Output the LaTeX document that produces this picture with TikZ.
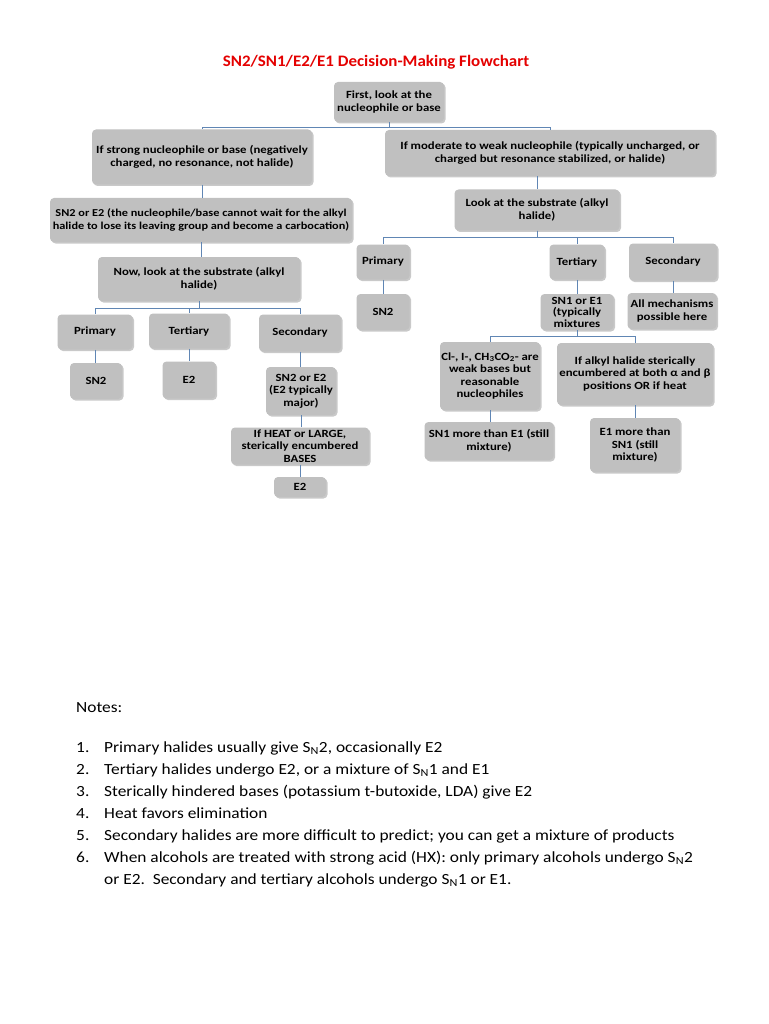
\documentclass[tikz,border=0pt]{standalone}
\usepackage{fontspec}
\setmainfont{Carlito}
\newfontfamily\boxfont{Carlito}[FakeStretch=1.16]
\newfontfamily\notefont{Carlito}[FakeStretch=1.12]
\newfontfamily\titlefont{Carlito}[FakeStretch=1.06]
\usepackage{tikz}
\usetikzlibrary{shadows}

\definecolor{boxgray}{RGB}{192,192,192}
\definecolor{linkblue}{RGB}{96,134,180}
\definecolor{titlered}{RGB}{228,0,0}

\tikzset{
  box/.style 2 args={rounded corners=4pt, fill=boxgray, align=center, inner sep=1pt,
    font=\boxfont\bfseries\fontsize{11}{12.6}\selectfont, minimum width=#1, minimum height=#2,
    drop shadow={shadow xshift=1.5pt, shadow yshift=-1.5pt, fill=black!35, opacity=.6}},
  link/.style={draw=linkblue, line width=0.8pt},
  note/.style={anchor=base west, inner sep=0pt, font=\notefont\fontsize{15.5}{19}\selectfont},
}

\begin{document}
\begin{tikzpicture}[x=1pt, y=-1pt]
        \fill[white] (0,0) rectangle (768,1024);
        \useasboundingbox (0,0) rectangle (768,1024);
        \node[font=\titlefont\bfseries\fontsize{16}{19}\selectfont, text=titlered] (title) at (376,62) {SN2/SN1/E2/E1 Decision-Making Flowchart};
        %
        \node[box={110pt}{40pt}] (first) at (389,102) {First, look at the\\nucleophile or base};
        \node[box={220pt}{55pt}] (strong) at (202,157) {If strong nucleophile or base (negatively\\charged, no resonance, not halide)};
        \node[box={330pt}{46pt}] (moderate) at (550,153) {If moderate to weak nucleophile (typically uncharged, or\\charged but resonance stabilized, or halide)};
        % left branch
        \node[box={302pt}{44pt}, font=\boxfont\bfseries\fontsize{10.6}{12.6}\selectfont] (sntwoetwo) at (201,220) {SN2 or E2 (the nucleophile/base cannot wait for the alkyl\\halide to lose its leaving group and become a carbocation)};
        \node[box={202pt}{44pt}] (nowlook) at (199,279) {Now, look at the substrate (alkyl\\halide)};
        \node[box={75pt}{35pt}] (primL) at (95,332) {Primary};
        \node[box={80pt}{35pt}] (tertL) at (189,331) {Tertiary};
        \node[box={82pt}{37pt}] (secL) at (300,333) {Secondary};
        \node[box={52pt}{36pt}] (sntwoL) at (96,381) {SN2};
        \node[box={53pt}{37pt}] (etwoL) at (189,380) {E2};
        \node[box={70pt}{48pt}, inner sep=0pt] (mixL) at (301,391) {SN2 or E2\\(E2 typically\\major)};
        \node[box={138pt}{37pt}, inner sep=0pt] (heat) at (300,446) {If HEAT or LARGE,\\sterically encumbered\\BASES};
        \node[box={52pt}{20pt}] (etwoB) at (300,487) {E2};
        % right branch
        \node[box={165pt}{41pt}] (lookR) at (537,210) {Look at the substrate (alkyl\\halide)};
        \node[box={53pt}{35pt}] (primR) at (383,262) {Primary};
        \node[box={53pt}{36pt}] (sntwoR) at (383,312) {SN2};
        \node[box={55pt}{35pt}] (tertR) at (577,262) {Tertiary};
        \node[box={88pt}{37pt}] (secR) at (673,262) {Secondary};
        \node[box={73pt}{36pt}, font=\boxfont\bfseries\fontsize{11}{11.5}\selectfont, inner sep=0pt] (mixR) at (577,312) {SN1 or E1\\(typically\\mixtures};
        \node[box={89pt}{36pt}] (allR) at (672,311) {All mechanisms\\possible here};
        \node[box={100pt}{68pt}] (weak) at (490,376) {Cl-, I-, CH\textsubscript{3}CO\textsubscript{2}- are\\weak bases but\\reasonable\\nucleophiles};
        \node[box={156pt}{62pt}] (hindered) at (635,374) {If alkyl halide sterically\\encumbered at both α and β\\positions OR if heat};
        \node[box={129pt}{38pt}] (sn1more) at (489,441) {SN1 more than E1 (still\\mixture)};
        \node[box={90pt}{54pt}] (e1more) at (635,445) {E1 more than\\SN1 (still\\mixture)};
        %
        \draw[link] (first.south) -- ++(0,5) -| (strong.north);
        \draw[link] (first.south) -- ++(0,5) -| (moderate.north);
        \draw[link] (strong.south) -- (strong.south |- sntwoetwo.north);
        \draw[link] (sntwoetwo.south) -- (sntwoetwo.south |- nowlook.north);
        \draw[link] (nowlook.south) -- ++(0,7) -| (primL.north);
        \draw[link] (nowlook.south) -- ++(0,7) -| (tertL.north);
        \draw[link] (nowlook.south) -- ++(0,7) -| (secL.north);
        \draw[link] (primL.south) -- (primL.south |- sntwoL.north);
        \draw[link] (tertL.south) -- (etwoL.north);
        \draw[link] (secL.south) -- (secL.south |- mixL.north);
        \draw[link] (mixL.south) -- (mixL.south |- heat.north);
        \draw[link] (heat.south) -- (etwoB.north);
        %
        \draw[link] (lookR.north |- moderate.south) -- (lookR.north);
        \draw[link] (lookR.south) -- ++(0,7) -| (primR.north);
        \draw[link] (lookR.south) -- ++(0,7) -| (tertR.north);
        \draw[link] (lookR.south) -- ++(0,7) -| (secR.north);
        \draw[link] (primR.south) -- (sntwoR.north);
        \draw[link] (tertR.south) -- (mixR.north);
        \draw[link] (secR.south) -- (secR.south |- allR.north);
        \draw[link] (mixR.south) -- ++(0,6) -| (weak.north);
        \draw[link] (mixR.south) -- ++(0,6) -| (hindered.north);
        \draw[link] (weak.south) -- (weak.south |- sn1more.north);
        \draw[link] (hindered.south) -- (e1more.north);
        % notes
        \node[note] (notes) at (76,712) {Notes:};
        \foreach \n/\y/\t in {1/752/{Primary halides usually give S\textsubscript{N}2, occasionally E2},
            2/774/{Tertiary halides undergo E2, or a mixture of S\textsubscript{N}1 and E1},
            3/796/{Sterically hindered bases (potassium t-butoxide, LDA) give E2},
            4/818/{Heat favors elimination},
            5/840/{Secondary halides are more difficult to predict; you can get a mixture of products},
            6/862/{When alcohols are treated with strong acid (HX): only primary alcohols undergo S\textsubscript{N}2}} {
            \node[note] (num\n) at (76,\y) {\n.};
            \node[note] (item\n) at (104,\y) {\t};
        }
        \node[note] (item6b) at (104,884) {or E2.\ \ Secondary and tertiary alcohols undergo S\textsubscript{N}1 or E1.};
\end{tikzpicture}
\end{document}
